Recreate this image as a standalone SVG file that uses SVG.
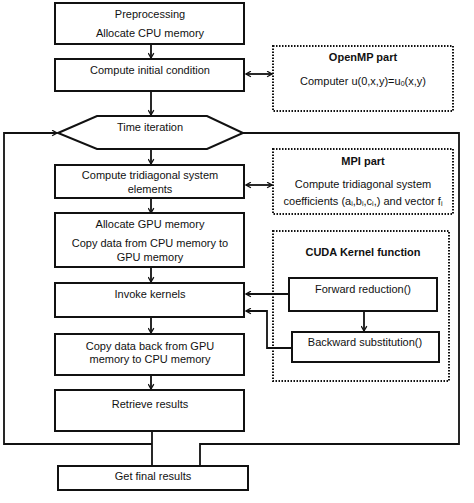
<svg xmlns="http://www.w3.org/2000/svg" width="474" height="503" viewBox="0 0 474 503">
<defs>
<style>
.box{fill:#fff;stroke:#111;stroke-width:2}
.dot{fill:none;stroke:#111;stroke-width:2;stroke-dasharray:1.5 1.5}
.t{font-family:"Liberation Sans",Arial,sans-serif;font-size:11px;fill:#111;text-anchor:middle}
.b{font-weight:bold}
.c{fill:none;stroke:#111;stroke-width:1.8}
</style>
<marker id="a" viewBox="0 0 10 10" refX="9" refY="5" markerWidth="7" markerHeight="7" orient="auto-start-reverse" markerUnits="userSpaceOnUse">
<path d="M2,1 L9,5 L2,9" fill="none" stroke="#111" stroke-width="1.8"/>
</marker>
</defs>
<rect width="474" height="503" fill="#fff"/>
<g id="connectors">
<path class="c" d="M151,44 V58" marker-end="url(#a)"/>
<path class="c" d="M151,91 V115" marker-end="url(#a)"/>
<path class="c" d="M151,149 V164" marker-end="url(#a)"/>
<path class="c" d="M151,198 V213" marker-end="url(#a)"/>
<path class="c" d="M151,267 V282" marker-end="url(#a)"/>
<path class="c" d="M151,317 V333" marker-end="url(#a)"/>
<path class="c" d="M151,375 V389" marker-end="url(#a)"/>
<path class="c" d="M246,74 H272" marker-start="url(#a)" marker-end="url(#a)"/>
<path class="c" d="M246,185 H272" marker-start="url(#a)" marker-end="url(#a)"/>
<path class="c" d="M289,294 H246" marker-end="url(#a)"/>
<path class="c" d="M292,348 H267 V311 H246" marker-end="url(#a)"/>
<path class="c" d="M364,311 V331" marker-end="url(#a)"/>
<path class="c" d="M152,431 V466"/>
<path class="c" d="M152,444 H4 V133 H57" marker-end="url(#a)"/>
<path class="c" d="M243,133 H459 V444 H200 V466"/>
</g>
<g id="preprocessing">
<rect class="box" x="55" y="3" width="189" height="41"/>
<text class="t" x="150" y="18">Preprocessing</text>
<text class="t" x="150" y="37">Allocate CPU memory</text>
</g>
<g id="initial">
<rect class="box" x="55" y="59" width="189" height="32"/>
<text class="t" x="150" y="74">Compute initial condition</text>
</g>
<g id="openmp">
<rect class="dot" x="273" y="46" width="180" height="65"/>
<text class="t b" x="363" y="61">OpenMP part</text>
<text class="t" x="363" y="85">Computer u(0,x,y)=u<tspan font-size="7" dy="1">0</tspan><tspan dy="-1">(x,y)</tspan></text>
</g>
<g id="time">
<polygon class="box" points="58,133 97,116 207,116 243,133 207,149 97,149"/>
<text class="t" x="150" y="131">Time iteration</text>
</g>
<g id="tridiag">
<rect class="box" x="55" y="165" width="189" height="33"/>
<text class="t" x="150" y="179">Compute tridiagonal system</text>
<text class="t" x="150" y="193">elements</text>
</g>
<g id="mpi">
<rect class="dot" x="273" y="149" width="180" height="65"/>
<text class="t b" x="363" y="165">MPI part</text>
<text class="t" x="363" y="188">Compute tridiagonal system</text>
<text class="t" x="363" y="205">coefficients (a<tspan font-size="7" dy="1">i</tspan><tspan dy="-1">,b</tspan><tspan font-size="7" dy="1">i</tspan><tspan dy="-1">,c</tspan><tspan font-size="7" dy="1">i</tspan><tspan dy="-1">,) and vector f</tspan><tspan font-size="7" dy="1">i</tspan></text>
</g>
<g id="allocgpu">
<rect class="box" x="55" y="213" width="189" height="54"/>
<text class="t" x="150" y="228">Allocate GPU memory</text>
<text class="t" x="150" y="247">Copy data from CPU memory to</text>
<text class="t" x="150" y="261">GPU memory</text>
</g>
<g id="invoke">
<rect class="box" x="55" y="283" width="189" height="34"/>
<text class="t" x="150" y="298">Invoke kernels</text>
</g>
<g id="copyback">
<rect class="box" x="55" y="334" width="189" height="41"/>
<text class="t" x="150" y="350">Copy data back from GPU</text>
<text class="t" x="150" y="363">memory to CPU memory</text>
</g>
<g id="retrieve">
<rect class="box" x="55" y="390" width="189" height="41"/>
<text class="t" x="150" y="408">Retrieve results</text>
</g>
<g id="cuda">
<rect class="dot" x="273" y="231" width="176" height="150"/>
<text class="t b" x="363" y="256">CUDA Kernel function</text>
</g>
<g id="forward">
<rect class="box" x="289" y="278" width="148" height="33"/>
<text class="t" x="363" y="293">Forward reduction()</text>
</g>
<g id="backward">
<rect class="box" x="292" y="332" width="147" height="30"/>
<text class="t" x="365" y="346">Backward substitution()</text>
</g>
<g id="final">
<rect class="box" x="58" y="466" width="190" height="24"/>
<text class="t" x="153" y="480">Get final results</text>
</g>
</svg>
